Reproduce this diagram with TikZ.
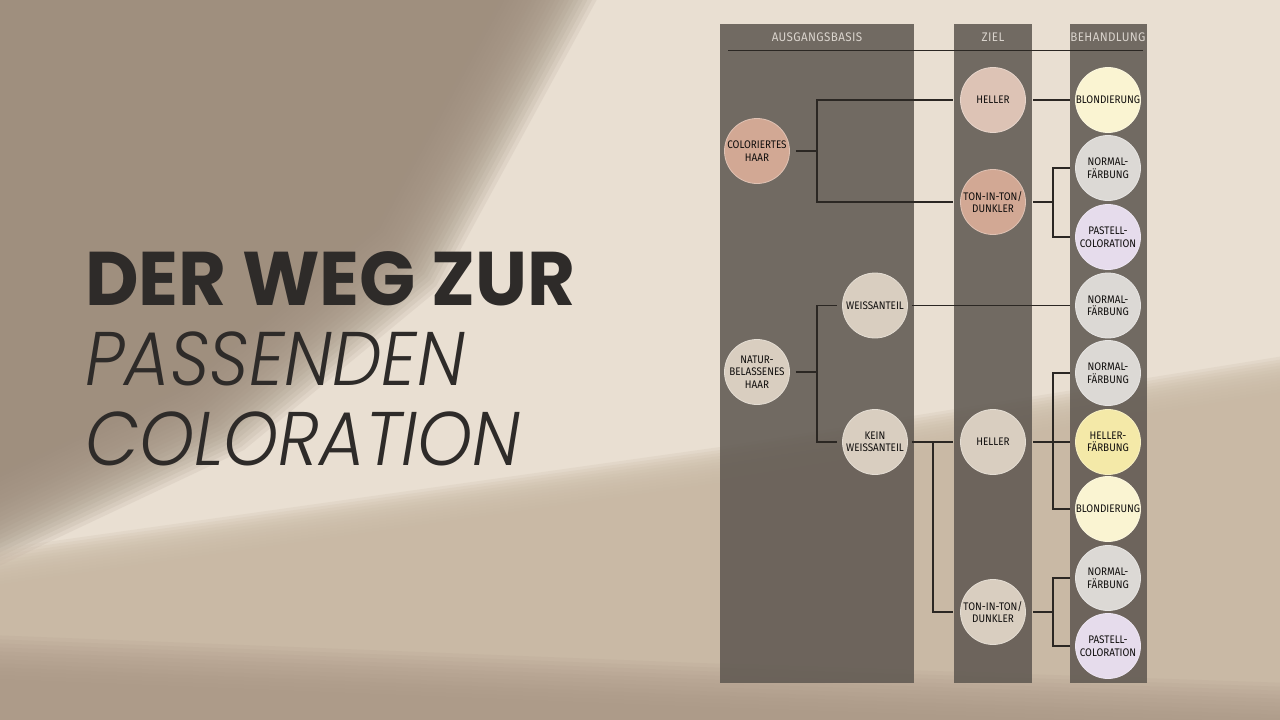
\documentclass[tikz,border=0pt]{standalone}
\usepackage{fontspec}
\setmainfont{Poppins}
\newfontfamily\cfont[FakeStretch=0.9]{Fira Sans}
\newfontfamily\hfont[FakeStretch=0.93,LetterSpace=3]{Fira Sans}
\newfontfamily\tbfont[FakeStretch=0.97]{Poppins}
\newfontfamily\tifont[FakeStretch=0.92, ItalicFont={Poppins Light Italic}]{Poppins}
\definecolor{bgl}{HTML}{E9DFD2}
\definecolor{bgd}{HTML}{9F8F7E}
\definecolor{bgt}{HTML}{C9B9A5}
\definecolor{bgb}{HTML}{A99785}
\definecolor{panel}{HTML}{5E5750}
\definecolor{conncol}{HTML}{2B2723}
\definecolor{headtxt}{HTML}{DAD4CD}
\definecolor{titletxt}{HTML}{2E2B29}
\definecolor{ctxt}{HTML}{100E0D}
\definecolor{crose}{HTML}{D2A894}
\definecolor{cpink}{HTML}{DDC3B5}
\definecolor{cbeige}{HTML}{D9CEC0}
\definecolor{cgrey}{HTML}{DCD9D5}
\definecolor{clav}{HTML}{E6DCEC}
\definecolor{cpale}{HTML}{FAF4D2}
\definecolor{cyel}{HTML}{F4E9A8}
\tikzset{
  bub/.style={circle, minimum size=65pt, inner sep=0pt, align=center,
    font=\cfont\fontsize{11}{12.5}\selectfont, text=ctxt,
    fill=#1, draw=#1!70!white, line width=0.8pt},
  conn/.style={draw=conncol, line width=1.1pt},
  head/.style={font=\hfont\fontsize{12.5}{14}\selectfont, text=headtxt, inner sep=0pt},
  panelbox/.style={fill=panel, fill opacity=0.86},
}
\begin{document}
\begin{tikzpicture}[x=1pt,y=-1pt]
\useasboundingbox (0,0) rectangle (1280,720);
\begin{scope}
\clip (0,0) rectangle (1280,720);
\fill[bgl] (0,0) rectangle (1280,720);
% dark upper-left shadow with soft edge
\foreach \k in {0,...,21}{
  \fill[bgd, opacity=0.13, shift={(14-3*\k,14-3*\k)}]
    (-400,-400) -- (793,-400) -- (575,0) -- (425,275) -- (230,436) -- (35,528) -- (0,545) -- (-400,740) -- cycle;
}
\fill[bgd, shift={(-52,-52)}]
    (-400,-400) -- (793,-400) -- (575,0) -- (425,275) -- (230,436) -- (35,528) -- (0,545) -- (-400,740) -- cycle;
% lower tan band
\foreach \k in {0,...,11}{
  \fill[bgt, opacity=0.2, shift={(0,3*\k)}]
    (-10,550) -- (720,447) -- (1290,355) -- (1290,800) -- (-10,800) -- cycle;
}
\fill[bgt, shift={(0,36)}]
    (-10,550) -- (720,447) -- (1290,355) -- (1290,800) -- (-10,800) -- cycle;
% bottom darker strip
\foreach \k in {0,...,11}{
  \fill[bgb, opacity=0.12, shift={(0,4*\k)}]
    (-10,635) -- (700,663) -- (1290,683) -- (1290,800) -- (-10,800) -- cycle;
}
\end{scope}
% title
\node[anchor=base west, inner sep=0pt, text=titletxt, font=\tbfont\bfseries\fontsize{76}{80}\selectfont] (t1) at (85,305) {DER WEG ZUR};
\node[anchor=base west, inner sep=0pt, text=titletxt, font=\tifont\itshape\fontsize{76}{80}\selectfont] (t2) at (85,385) {PASSENDEN};
\node[anchor=base west, inner sep=0pt, text=titletxt, font=\tifont\itshape\fontsize{76}{80}\selectfont] (t3) at (85,465) {COLORATION};
% panels
\fill[panelbox] (720,24) rectangle (914,683);
\fill[panelbox] (954,24) rectangle (1032,683);
\fill[panelbox] (1070,24) rectangle (1147,683);
\draw[draw=conncol, line width=1pt] (728,50.5) -- (1143,50.5);
\node[head] (h1) at (817,37) {AUSGANGSBASIS};
\node[head] (h2) at (993,37) {ZIEL};
\node[head] (h3) at (1108,37) {BEHANDLUNG};
% circles
\node[bub=crose] (col) at (757,151) {COLORIERTES\\HAAR};
\node[bub=cbeige] (nat) at (757,372) {NATUR-\\BELASSENES\\HAAR};
\node[bub=cbeige] (wei) at (875,305.5) {WEISSANTEIL};
\node[bub=cbeige] (kein) at (875,442) {KEIN\\WEISSANTEIL};
\node[bub=cpink] (z1) at (993,100) {HELLER};
\node[bub=crose] (z2) at (993,202) {TON-IN-TON/\\DUNKLER};
\node[bub=cbeige] (z3) at (993,442) {HELLER};
\node[bub=cbeige] (z4) at (993,612) {TON-IN-TON/\\DUNKLER};
\node[bub=cpale] (b1) at (1108,100) {BLONDIERUNG};
\node[bub=cgrey] (b2) at (1108,168) {NORMAL-\\FÄRBUNG};
\node[bub=clav] (b3) at (1108,237) {PASTELL-\\COLORATION};
\node[bub=cgrey] (b4) at (1108,305.5) {NORMAL-\\FÄRBUNG};
\node[bub=cgrey] (b5) at (1108,373) {NORMAL-\\FÄRBUNG};
\node[bub=cyel] (b6) at (1108,442) {HELLER-\\FÄRBUNG};
\node[bub=cpale] (b7) at (1108,509) {BLONDIERUNG};
\node[bub=cgrey] (b8) at (1108,578) {NORMAL-\\FÄRBUNG};
\node[bub=clav] (b9) at (1108,646) {PASTELL-\\COLORATION};
% junctions
\coordinate (jc) at (817,151);
\coordinate (jn) at (817,372);
\coordinate (jz2) at (1053,202);
\coordinate (jk) at (933,442);
\coordinate (jz3) at (1053,442);
\coordinate (jz4) at (1053,612);
% connectors
\draw[conn, shorten <=6pt] (col.east) -- (jc);
\draw[conn, shorten >=7pt] (jc) |- (z1.west);
\draw[conn, shorten >=7pt] (jc) |- (z2.west);
\draw[conn, shorten <=7pt, shorten >=5.5pt] (z1.east) -- (b1.west);
\draw[conn, shorten <=7pt] (z2.east) -- (jz2);
\draw[conn, shorten >=5.5pt] (jz2) |- (b2.west);
\draw[conn, shorten >=5.5pt] (jz2) |- (b3.west);
\draw[conn, shorten <=6pt] (nat.east) -- (jn);
\draw[conn, shorten >=5pt] (jn) |- (wei.west);
\draw[conn, shorten >=5pt] (jn) |- (kein.west);
\draw[conn, shorten <=4.5pt, shorten >=5.5pt] (wei.east) -- (b4.west);
\draw[conn, shorten <=4.5pt, shorten >=7pt] (kein.east) -- (z3.west);
\draw[conn, shorten >=7pt] (jk) |- (z4.west);
\draw[conn, shorten <=7pt] (z3.east) -- (jz3);
\draw[conn, shorten >=5.5pt] (jz3) |- (b5.west);
\draw[conn, shorten >=5.5pt] (jz3) |- (b6.west);
\draw[conn, shorten >=5.5pt] (jz3) |- (b7.west);
\draw[conn, shorten <=7pt] (z4.east) -- (jz4);
\draw[conn, shorten >=5.5pt] (jz4) |- (b8.west);
\draw[conn, shorten >=5.5pt] (jz4) |- (b9.west);
\end{tikzpicture}
\end{document}
